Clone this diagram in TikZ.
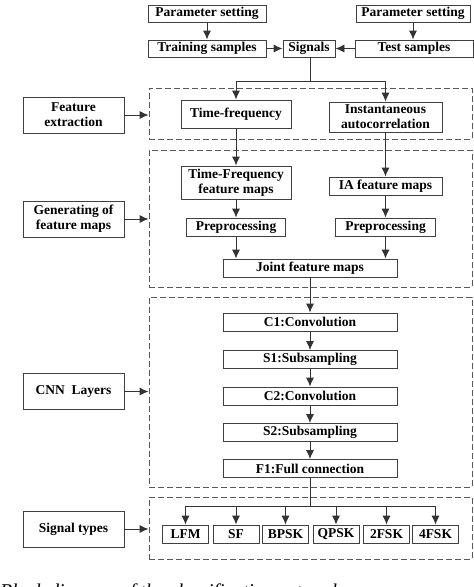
\documentclass[tikz,border=0pt]{standalone}
\usepackage{fontspec}
\setmainfont{Liberation Serif}
\usetikzlibrary{arrows.meta}
\begin{document}
\begin{tikzpicture}[x=1pt,y=-1pt,
    blk/.style={draw=black!75,line width=0.9pt,inner sep=0pt,align=center,
      font=\bfseries\fontsize{13.5}{15}\selectfont},
    grp/.style={draw=black!65,line width=0.9pt,dash pattern=on 6pt off 3pt,inner sep=0pt},
    arr/.style={draw=black!80,line width=0.9pt,-{Latex[length=9pt,width=8pt]}},
    ln/.style={draw=black!80,line width=0.9pt}]
    \useasboundingbox (0,0) rectangle (474,587);
    \def\lx{73.5}; \def\gx{310.5}; \def\mx{310}; \def\ax{236}; \def\bx{385.5};
    \def\gw{323}; \def\lw{101}; \def\lh{36}; \def\cw{174}; \def\ch{18};

    % dashed groups
    \node[grp,minimum width=\gw,minimum height=51] (fex) at (\gx,113.5) {};
    \node[grp,minimum width=\gw,minimum height=137] (gfm) at (\gx,218.5) {};
    \node[grp,minimum width=\gw,minimum height=190] (cnn) at (\gx,392) {};
    \node[grp,minimum width=\gw,minimum height=62] (sty) at (\gx,528) {};

    % labels on the left
    \node[blk,minimum width=\lw,minimum height=\lh] (felab) at (\lx,115) {Feature\\extraction};
    \node[blk,minimum width=\lw,minimum height=\lh] (gflab) at (\lx,219) {Generating of\\feature maps};
    \node[blk,minimum width=\lw,minimum height=\lh] (cnlab) at (\lx,391.5) {CNN\ \ Layers};
    \node[blk,minimum width=\lw,minimum height=\lh] (stlab) at (\lx,529) {Signal types};

    % inputs
    \node[blk,minimum width=118,minimum height=17] (ps1) at (207,13.5) {Parameter setting};
    \node[blk,minimum width=114,minimum height=17] (ps2) at (413,13.5) {Parameter setting};
    \node[blk,minimum width=118,minimum height=17] (train) at (207,48.5) {Training samples};
    \node[blk,minimum width=52,minimum height=17] (sig) at (309,48.5) {Signals};
    \node[blk,minimum width=118,minimum height=17] (test) at (414,48.5) {Test samples};

    % features
    \node[blk,minimum width=110,minimum height=28] (tf) at (\ax,114) {Time-frequency};
    \node[blk,minimum width=113,minimum height=30] (iac) at (\bx,117) {Instantaneous\\autocorrelation};
    \node[blk,minimum width=110,minimum height=33] (tfm) at (\ax,182.5) {Time-Frequency\\feature maps};
    \node[blk,minimum width=113,minimum height=\ch] (iam) at (\bx,186) {IA feature maps};
    \node[blk,minimum width=99,minimum height=\ch] (pre1) at (\ax,227) {Preprocessing};
    \node[blk,minimum width=100,minimum height=\ch] (pre2) at (\bx,227) {Preprocessing};
    \node[blk,minimum width=\cw,minimum height=\ch] (joint) at (\mx,268) {Joint feature maps};

    % cnn layers
    \node[blk,minimum width=\cw,minimum height=\ch] (c1) at (\mx,322) {C1:Convolution};
    \node[blk,minimum width=\cw,minimum height=\ch] (s1) at (\mx,359.5) {S1:Subsampling};
    \node[blk,minimum width=\cw,minimum height=\ch] (c2) at (\mx,396) {C2:Convolution};
    \node[blk,minimum width=\cw,minimum height=\ch] (s2) at (\mx,432.5) {S2:Subsampling};
    \node[blk,minimum width=\cw,minimum height=\ch] (f1) at (\mx,468.5) {F1:Full connection};

    % outputs
    \node[blk,minimum width=46,minimum height=\ch] (lfm) at (185.5,534) {LFM};
    \node[blk,minimum width=46,minimum height=\ch] (sf) at (236,534) {SF};
    \node[blk,minimum width=46,minimum height=\ch] (bpsk) at (285.5,534) {BPSK};
    \node[blk,minimum width=46,minimum height=\ch] (qpsk) at (336,534) {QPSK};
    \node[blk,minimum width=46,minimum height=\ch] (fsk2) at (386.5,534) {2FSK};
    \node[blk,minimum width=46,minimum height=\ch] (fsk4) at (435.5,534) {4FSK};

    \coordinate (sp1) at (\mx,81); \coordinate (sp2) at (\mx,506);

    \draw[arr] (ps1) -- (train); \draw[arr] (ps2) -- (ps2 |- test.north);
    \draw[arr] (train) -- (sig); \draw[arr] (test) -- (sig);
    \draw[ln] (sig.south -| sp1) -- (sp1);
    \draw[arr] (sp1) -| (tf); \draw[arr] (sp1) -| (iac);
    \draw[arr] (tf) -- (tfm); \draw[arr] (iac) -- (iam);
    \draw[arr] (tfm) -- (pre1); \draw[arr] (iam) -- (pre2);
    \draw[arr] (pre1) -- (pre1 |- joint.north); \draw[arr] (pre2) -- (pre2 |- joint.north);
    \draw[arr] (joint) -- (c1); \draw[arr] (c1) -- (s1); \draw[arr] (s1) -- (c2);
    \draw[arr] (c2) -- (s2); \draw[arr] (s2) -- (f1);
    \draw[ln] (f1) -- (sp2);
    \foreach \t in {lfm,sf,bpsk,qpsk,fsk2,fsk4} {\draw[arr] (sp2) -| (\t);}

    \draw[arr] (felab) -- (felab -| fex.west); \draw[arr] (gflab) -- (gflab -| gfm.west);
    \draw[arr] (cnlab) -- (cnlab -| cnn.west); \draw[arr] (stlab) -- (stlab -| sty.west);

    % caption, cut off at the lower edge
    \node[anchor=base west,inner sep=0pt,font=\itshape\fontsize{19.5}{22}\selectfont] (cap) at (0,597)
      {Block diagram of the classification network};
  \end{tikzpicture}
\end{document}
